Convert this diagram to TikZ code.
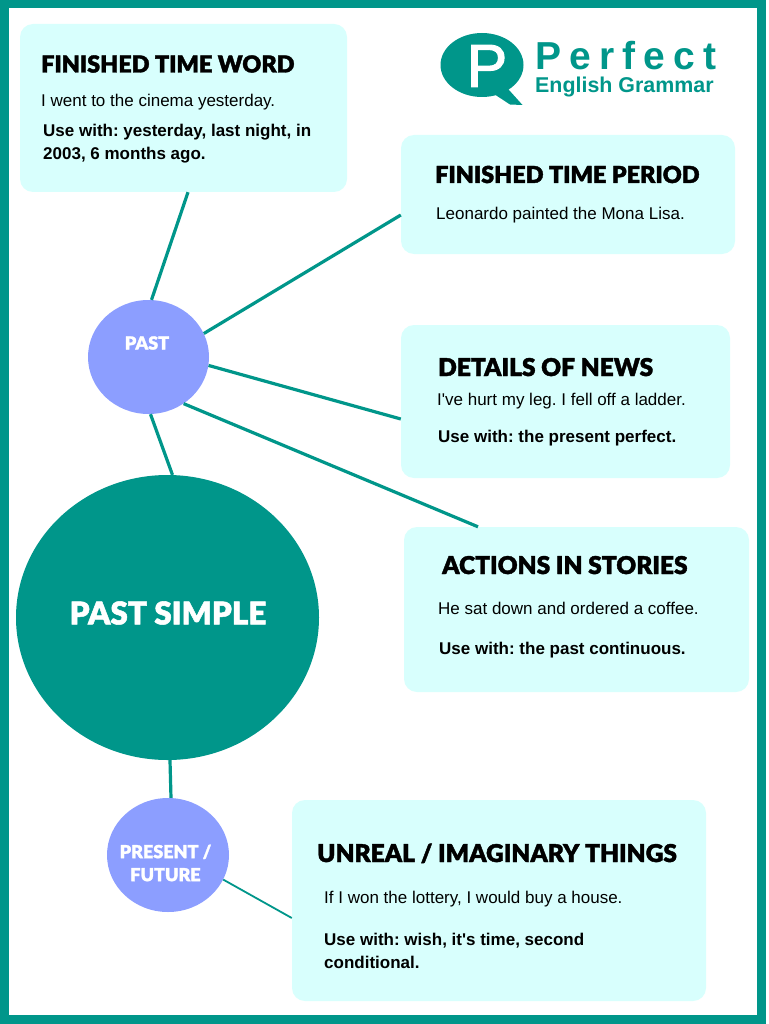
\documentclass[tikz,border=0pt]{standalone}
\usepackage{fontspec}
\usetikzlibrary{shapes.geometric}
\setmainfont{Liberation Sans}
\newfontfamily\headf[FakeBold=1.6]{Lato Black}
\newfontfamily\logob[FakeBold=1.5]{Liberation Sans}
\definecolor{teal1}{HTML}{00968A}
\definecolor{cardbg}{HTML}{D8FFFD}
\definecolor{periw}{HTML}{8C9EFF}
\tikzset{
 card/.style={fill=cardbg,draw=none,rounded corners=13pt,rectangle,inner sep=0pt},
 link/.style={draw=teal1,line width=3.2pt},
 thinlink/.style={draw=teal1,line width=1.8pt},
 head/.style={anchor=base west,inner sep=0pt,font=\headf\fontsize{24.5}{26}\selectfont,text=black},
 headsmall/.style={head,font=\headf\fontsize{23.4}{26}\selectfont},
 body/.style={anchor=base west,inner sep=0pt,font=\fontsize{17}{20}\selectfont,text=black},
 usew/.style={anchor=base west,inner sep=0pt,font=\bfseries\fontsize{17}{23}\selectfont,text=black,align=left},
 blob/.style={ellipse,inner sep=0pt,fill=periw},
 blobtext/.style={inner sep=0pt,text=white,align=center,font=\headf\fontsize{18}{23}\selectfont},
}
\frenchspacing
\begin{document}
\begin{tikzpicture}[x=1pt,y=-1pt]
\useasboundingbox (0,0) rectangle (768,1024);
\fill[white] (0,0) rectangle (768,1024);
\draw[teal1,line width=9pt] (4.5,4) rectangle (761.5,1019.5);
% shapes
\node[blob,minimum width=121pt,minimum height=114pt] (past) at (148.5,357) {};
\node[blob,minimum width=303pt,minimum height=285pt,fill=teal1] (main) at (167.5,617.5) {};
\node[blob,minimum width=122pt,minimum height=114pt] (pres) at (168,855) {};
\node[card,minimum width=327pt,minimum height=168pt] (c1) at (183.5,108) {};
\node[card,minimum width=334pt,minimum height=119pt] (c2) at (568,194.5) {};
\node[card,minimum width=329pt,minimum height=153pt] (c3) at (565.5,401.5) {};
\node[card,minimum width=345pt,minimum height=165pt] (c4) at (576.5,609.5) {};
\node[card,minimum width=414pt,minimum height=201pt] (c5) at (499,900.5) {};
% connectors
\draw[link] (past.87) -- ([xshift=4.5pt]c1.south);
\draw[link] (past.23.4) -- ([yshift=-20.5pt]c2.west);
\draw[link] (past.-8.5) -- ([yshift=-17.5pt]c3.west);
\draw[link] (past.-53) -- ([xshift=-98.5pt]c4.north);
\draw[link] (past.-88.5) -- (main.88);
\draw[link] (main.-89.4) -- (pres.87);
\draw[thinlink] (pres.-24) -- ([yshift=-17.5pt]c5.west);
% texts
\node[headsmall] (t1) at (41,72.5) {FINISHED TIME WORD};
\node[body] (t1b) at (41,107) {I went to the cinema yesterday.};
\node[usew,anchor=north west] (t1u) at (43,123.5) {Use with: yesterday, last night, in\\2003, 6 months ago.};
\node[headsmall] (t2) at (435,183) {FINISHED TIME PERIOD};
\node[body] (t2b) at (436,220) {Leonardo painted the Mona Lisa.};
\node[head] (t3) at (438,376) {DETAILS OF NEWS};
\node[body] (t3b) at (437,405) {I\textquotesingle ve hurt my leg. I fell off a ladder.};
\node[usew] (t3u) at (438,442) {Use with: the present perfect.};
\node[head] (t4) at (442,574) {ACTIONS IN STORIES};
\node[body] (t4b) at (438,614) {He sat down and ordered a coffee.};
\node[usew] (t4u) at (439,654) {Use with: the past continuous.};
\node[head] (t5) at (317,862) {UNREAL / IMAGINARY THINGS};
\node[body] (t5b) at (324,903) {If I won the lottery, I would buy a house.};
\node[usew,anchor=north west] (t5u) at (324,932.5) {Use with: wish, it\textquotesingle s time, second\\conditional.};
\node[blobtext] (l1) at (147,343) {PAST};
\node[blobtext,font=\headf\fontsize{31.5}{33}\selectfont] (l2) at (168,613) {PAST SIMPLE};
\node[blobtext] (l3) at (165.5,863) {PRESENT /\\FUTURE};
% logo
\node[ellipse,fill=teal1,inner sep=0pt,minimum width=83pt,minimum height=64pt] (bub) at (482,65) {};
\fill[teal1] (494,94) -- (510,104.5) -- (522.5,105) -- (509,90) -- (500,80) -- cycle;
\node[inner sep=0pt,anchor=base,text=white,font=\logob\fontsize{61}{60}\selectfont] (lp) at (487,87) {P};
\node[anchor=base west,inner sep=0pt,text=teal1,font=\bfseries\fontsize{39}{37}\selectfont\addfontfeature{LetterSpace=21}] (lt1) at (535,70) {Perfect};
\node[anchor=base west,inner sep=0pt,text=teal1,font=\bfseries\fontsize{21.4}{21}\selectfont] (lt2) at (535,92.5) {English Grammar};
\end{tikzpicture}
\end{document}
